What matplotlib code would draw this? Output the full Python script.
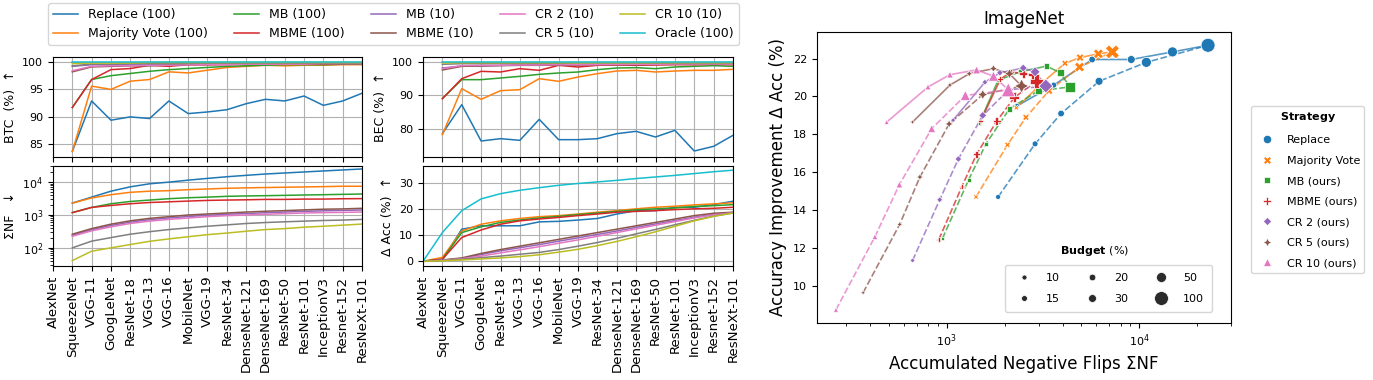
import numpy as np
import matplotlib.pyplot as plt
from matplotlib.lines import Line2D

# ---- data -----------------------------------------------------------------
models = ['AlexNet', 'SqueezeNet', 'VGG-11', 'GoogLeNet', 'ResNet-18', 'VGG-13',
          'VGG-16', 'MobileNet', 'VGG-19', 'ResNet-34', 'DenseNet-121',
          'DenseNet-169', 'ResNet-50', 'ResNet-101', 'InceptionV3', 'Resnet-152',
          'ResNeXt-101']

series = ['Replace (100)', 'Majority Vote (100)', 'MB (100)', 'MBME (100)', 'MB (10)',
          'MBME (10)', 'CR 2 (10)', 'CR 5 (10)', 'CR 10 (10)', 'Oracle (100)']

# BTC (%) for updates 1..16 (SqueezeNet .. ResNeXt-101)
btc = [
    [83.7, 92.9, 89.4, 90.0, 89.7, 92.9, 90.6, 90.9, 91.3, 92.4, 93.2, 92.9, 93.8, 92.1, 92.9, 94.3],
    [83.7, 95.6, 95.0, 96.5, 96.8, 98.2, 98.0, 98.5, 99.0, 99.2, 99.4, 99.3, 99.4, 99.4, 99.5, 99.5],
    [91.7, 96.8, 97.5, 97.9, 98.3, 98.6, 98.8, 99.0, 99.2, 99.3, 99.4, 99.5, 99.5, 99.5, 99.6, 99.6],
    [91.7, 96.8, 98.6, 98.8, 99.4, 99.2, 99.5, 99.5, 99.6, 99.6, 99.6, 99.6, 99.7, 99.7, 99.7, 99.7],
    [99.2, 99.5, 99.5, 99.6, 99.6, 99.6, 99.7, 99.7, 99.7, 99.7, 99.7, 99.8, 99.8, 99.8, 99.8, 99.8],
    [98.2, 99.1, 99.2, 99.3, 99.3, 99.4, 99.5, 99.5, 99.5, 99.6, 99.6, 99.6, 99.6, 99.6, 99.7, 99.7],
    [98.4, 99.2, 99.3, 99.3, 99.4, 99.4, 99.5, 99.5, 99.5, 99.6, 99.6, 99.6, 99.6, 99.7, 99.7, 99.7],
    [99.3, 99.6, 99.6, 99.7, 99.7, 99.7, 99.7, 99.8, 99.8, 99.8, 99.8, 99.8, 99.8, 99.8, 99.8, 99.8],
    [99.7, 99.8, 99.8, 99.8, 99.9, 99.9, 99.9, 99.9, 99.9, 99.9, 99.9, 99.9, 99.9, 99.9, 99.9, 99.9],
    [100.0] * 16,
]

# BEC (%) for updates 1..16
bec = [
    [78.5, 87.2, 76.3, 77.0, 76.5, 82.8, 76.7, 76.7, 77.0, 78.5, 79.2, 77.5, 79.5, 73.3, 74.7, 78.0],
    [78.2, 92.0, 88.8, 91.4, 91.7, 95.0, 94.2, 95.5, 96.5, 97.3, 97.5, 97.0, 97.3, 97.5, 97.5, 97.8],
    [89.0, 94.7, 94.7, 95.2, 95.7, 96.3, 96.7, 97.0, 97.7, 98.2, 98.3, 98.0, 98.5, 98.7, 98.9, 98.7],
    [89.0, 95.0, 97.2, 97.0, 98.0, 97.5, 99.0, 98.5, 99.0, 99.1, 99.0, 99.1, 99.2, 99.2, 99.3, 99.2],
    [98.2, 98.8, 98.9, 99.0, 99.1, 99.1, 99.2, 99.2, 99.3, 99.3, 99.3, 99.3, 99.4, 99.4, 99.4, 99.4],
    [97.6, 98.7, 98.8, 98.9, 99.0, 99.0, 99.1, 99.1, 99.2, 99.2, 99.2, 99.3, 99.3, 99.3, 99.4, 99.4],
    [98.0, 98.9, 99.0, 99.0, 99.1, 99.1, 99.2, 99.2, 99.2, 99.3, 99.3, 99.3, 99.4, 99.4, 99.4, 99.4],
    [99.3, 99.5, 99.5, 99.6, 99.6, 99.6, 99.6, 99.7, 99.7, 99.7, 99.7, 99.7, 99.7, 99.7, 99.7, 99.7],
    [99.7, 99.8, 99.8, 99.8, 99.8, 99.8, 99.8, 99.8, 99.8, 99.8, 99.8, 99.8, 99.8, 99.8, 99.8, 99.8],
    [100.0] * 16,
]

# accumulated negative flips for updates 1..16 (oracle has none)
nf = [
    [2300, 3500, 5300, 7200, 8900, 10000, 11500, 13000, 14600, 16100, 17700, 19000, 20400, 21900, 23500, 25200],
    [2300, 3300, 4150, 4900, 5300, 5500, 5900, 6200, 6500, 6700, 6850, 7000, 7150, 7300, 7500, 7500],
    [1180, 1700, 2200, 2580, 2850, 3130, 3350, 3500, 3700, 3800, 3870, 3960, 4060, 4150, 4250, 4350],
    [1180, 1700, 1950, 2200, 2400, 2520, 2650, 2780, 2850, 2900, 2980, 2980, 3050, 3050, 3120, 3150],
    [240, 355, 480, 605, 720, 810, 900, 980, 1050, 1110, 1170, 1230, 1290, 1340, 1380, 1420],
    [260, 385, 526, 665, 790, 890, 1000, 1075, 1150, 1230, 1300, 1360, 1430, 1500, 1530, 1600],
    [225, 330, 435, 550, 650, 735, 810, 890, 955, 1000, 1050, 1100, 1150, 1180, 1200, 1230],
    [100, 160, 205, 260, 310, 360, 405, 455, 500, 550, 590, 620, 650, 680, 700, 735],
    [41, 79, 100, 126, 158, 187, 218, 252, 282, 320, 360, 385, 425, 455, 490, 530],
    [np.nan] * 16,
]

# accuracy improvement (%) for AlexNet .. ResNeXt-101
dacc = [
    [0, 0.5, 12.3, 13.6, 13.6, 13.6, 15.1, 15.3, 15.8, 16.4, 18.1, 19.4, 19.4, 20.7, 20.7, 21.7, 23.0],
    [0, 1.5, 11.6, 14.2, 15.5, 16.4, 17.1, 17.5, 18.1, 18.8, 19.4, 20.1, 20.7, 21.1, 21.6, 22.0, 22.4],
    [0, 0.8, 11.0, 13.2, 14.9, 15.8, 16.6, 17.2, 17.9, 18.5, 19.1, 19.7, 20.1, 20.4, 21.0, 21.3, 21.7],
    [0, 0.8, 9.1, 12.0, 14.2, 15.5, 16.2, 16.8, 17.5, 18.1, 18.8, 19.1, 19.4, 19.8, 20.1, 20.3, 20.7],
    [0, 0.4, 1.1, 2.6, 4.0, 5.2, 6.4, 7.7, 9.0, 10.3, 11.6, 13.0, 14.3, 15.6, 16.9, 18.0, 18.7],
    [0, 0.5, 1.3, 3.0, 4.5, 5.8, 7.1, 8.4, 9.7, 11.0, 12.3, 13.6, 14.9, 16.2, 17.5, 18.4, 18.8],
    [0, 0.4, 1.0, 2.0, 3.2, 4.4, 5.6, 6.9, 8.2, 9.6, 11.0, 12.4, 13.8, 15.2, 16.6, 17.8, 18.6],
    [0, 0.3, 0.8, 1.4, 2.0, 2.7, 3.4, 4.5, 5.8, 7.2, 8.8, 10.5, 12.2, 14.0, 15.7, 17.3, 18.5],
    [0, 0.2, 0.5, 0.9, 1.3, 1.8, 2.5, 3.5, 4.6, 6.0, 7.6, 9.4, 11.3, 13.4, 15.5, 17.2, 18.5],
    [0, 11.0, 19.4, 23.9, 25.9, 27.2, 28.2, 29.1, 29.8, 30.4, 31.0, 31.7, 32.3, 32.9, 33.6, 34.3, 34.9],
]

# ImageNet scatter: budget (%) vs (sum NF, delta acc) for two settings each
budgets = [10, 15, 20, 30, 50, 100]
strategies = ['Replace', 'Majority Vote', 'MB (ours)', 'MBME (ours)',
              'CR 2 (ours)', 'CR 5 (ours)', 'CR 10 (ours)']

dash_nf = [
    [1850, 2880, 3930, 6190, 10900, 22800],
    [1420, 2070, 2580, 3400, 4900, 7260],
    [950, 1300, 1600, 2120, 3000, 4360],
    [910, 1200, 1430, 1820, 2250, 2930],
    [665, 920, 1150, 1540, 2100, 3275],
    [368, 570, 726, 1030, 1540, 2450],
    [266, 424, 568, 836, 1250, 2090],
]
dash_acc = [
    [14.7, 17.5, 19.1, 20.8, 21.8, 22.7],
    [14.7, 17.45, 18.9, 20.3, 21.55, 22.35],
    [12.5, 15.6, 17.5, 19.35, 20.3, 20.5],
    [12.45, 15.25, 16.95, 18.7, 19.95, 20.8],
    [11.35, 14.55, 16.7, 19.0, 20.35, 20.55],
    [9.65, 13.25, 15.75, 18.55, 20.1, 20.55],
    [8.75, 12.6, 15.35, 18.3, 20.05, 20.35],
]
solid_nf = [
    [2320, 3600, 5700, 9100, 14900, 22800],
    [2300, 3200, 4120, 4930, 6140, 7260],
    [1480, 1850, 2400, 3300, 3900, 4360],
    [1500, 1900, 2150, 2500, 2800, 2930],
    [1080, 1580, 1890, 2500, 2880, 3275],
    [665, 1040, 1310, 1750, 2120, 2450],
    [488, 800, 1040, 1430, 1750, 2090],
]
solid_acc = [
    [19.5, 20.6, 21.95, 21.95, 22.35, 22.7],
    [19.4, 20.8, 21.75, 22.05, 22.25, 22.35],
    [18.6, 20.85, 21.3, 21.6, 21.25, 20.5],
    [18.7, 20.9, 21.3, 21.2, 21.15, 20.8],
    [18.75, 20.75, 21.25, 21.5, 21.3, 20.55],
    [18.65, 20.6, 21.2, 21.47, 21.2, 20.55],
    [18.65, 20.5, 21.15, 21.4, 21.07, 20.35],
]

# ---- figure ---------------------------------------------------------------
W, H = 1373, 380
fig = plt.figure(figsize=(W / 100, H / 100), dpi=100)


def box(l, t, r, b):
    return [l / W, 1 - b / H, (r - l) / W, (b - t) / H]


colors = ['C%d' % i for i in range(10)]
x_all = np.arange(len(models))
x_upd = x_all[1:]

ax_btc = fig.add_axes(box(53, 57, 362, 157))
ax_nf = fig.add_axes(box(53, 166, 362, 266))
ax_bec = fig.add_axes(box(423, 57, 733, 157))
ax_acc = fig.add_axes(box(423, 166, 733, 266))

for i in range(len(series)):
    ax_btc.plot(x_upd, btc[i], color=colors[i], lw=1.1, label=series[i])
    ax_bec.plot(x_upd, bec[i], color=colors[i], lw=1.1)
    ax_nf.plot(x_upd, nf[i], color=colors[i], lw=1.1)
    ax_acc.plot(x_all, dacc[i], color=colors[i], lw=1.1)

ax_nf.set_yscale('log')
ax_btc.set_ylim(82.7, 100.9)
ax_bec.set_ylim(71.5, 101.5)
ax_nf.set_ylim(28, 31000)
ax_acc.set_ylim(-1.8, 36.5)
ax_btc.set_yticks([85, 90, 95, 100])
ax_bec.set_yticks([80, 90, 100])
ax_acc.set_yticks([0, 10, 20, 30])

for ax in (ax_btc, ax_nf, ax_bec, ax_acc):
    ax.set_xlim(0, len(models) - 1)
    ax.set_xticks(x_all)
    ax.grid(True, color='#b0b0b0', lw=0.8)
    ax.tick_params(labelsize=8)
for ax in (ax_btc, ax_bec):
    ax.set_xticklabels([])
for ax in (ax_nf, ax_acc):
    ax.set_xticklabels(models, rotation=90, fontsize=9.6)

ax_btc.set_ylabel('BTC  (%)  ↑', fontsize=9)
ax_nf.set_ylabel('ΣNF   ↓', fontsize=9)
ax_bec.set_ylabel('BEC (%)  ↑', fontsize=9)
ax_acc.set_ylabel('Δ Acc (%)  ↑', fontsize=9)

fig.legend(handles=ax_btc.get_lines(), ncol=5, fontsize=9,
           loc='upper left', bbox_to_anchor=(48 / W, 1 - 3 / H),
           columnspacing=2.1, handlelength=2.0, borderaxespad=0)

# ---- scatter --------------------------------------------------------------
ax_s = fig.add_axes(box(817, 32, 1231, 323))
markers = ['o', 'X', (4, 0, 45), 'P', (4, 0, 0), (4, 1, 0), '^']


def msize(b):
    return 13 + (b - 10) / 90 * (100 - 13)


sizes = [msize(b) for b in budgets]
for i in range(len(strategies)):
    c = colors[i]
    ax_s.plot(dash_nf[i], dash_acc[i], color=c, lw=1.2, alpha=0.75, ls=(0, (4, 1.5)), zorder=2)
    ax_s.plot(solid_nf[i], solid_acc[i], color=c, lw=1.2, alpha=0.75, zorder=2)
    ax_s.scatter(dash_nf[i], dash_acc[i], s=sizes, color=c, marker=markers[i],
                 edgecolors='white', linewidths=0.5, zorder=3)
    ax_s.scatter(solid_nf[i], solid_acc[i], s=sizes, color=c, marker=markers[i],
                 edgecolors='white', linewidths=0.5, zorder=3)

ax_s.set_xscale('log')
ax_s.set_xlim(212, 30000)
ax_s.set_ylim(8.05, 23.4)
ax_s.set_yticks([10, 12, 14, 16, 18, 20, 22])
ax_s.tick_params(labelsize=8)
ax_s.set_title('ImageNet', fontsize=12)
ax_s.set_xlabel('Accumulated Negative Flips ΣNF', fontsize=12)
ax_s.set_ylabel('Accuracy Improvement Δ Acc (%)', fontsize=12)

strat_handles = [Line2D([], [], ls='', marker=markers[i], color=colors[i], markersize=6,
                        markeredgecolor='white', markeredgewidth=0.5, label=strategies[i])
                 for i in range(len(strategies))]
fig.legend(handles=strat_handles, title=r'$\bf{Strategy}$', fontsize=8,
           title_fontsize=8, loc='upper left', labelspacing=0.95,
           bbox_to_anchor=(1251 / W, 1 - 106 / H), borderaxespad=0)

bud_handles = [Line2D([], [], ls='', marker='o', color='#2b2b2b', markersize=np.sqrt(sizes[k]),
                      markeredgecolor='white', markeredgewidth=0.5, label=str(budgets[k]))
               for k in range(len(budgets))]
ax_s.legend(handles=bud_handles, ncol=3, fontsize=8, loc='upper left',
            bbox_to_anchor=((1005 - 817) / 414, (323 - 265) / 291),
            borderaxespad=0, columnspacing=1.9, handletextpad=1.0, labelspacing=1.0,
            borderpad=0.7)
ax_s.text((1095 - 817) / 414, (323 - 251) / 291, r'$\bf{Budget}$ (%)', transform=ax_s.transAxes,
          ha='center', va='center', fontsize=8)

fig.savefig('out.png', dpi=100)
